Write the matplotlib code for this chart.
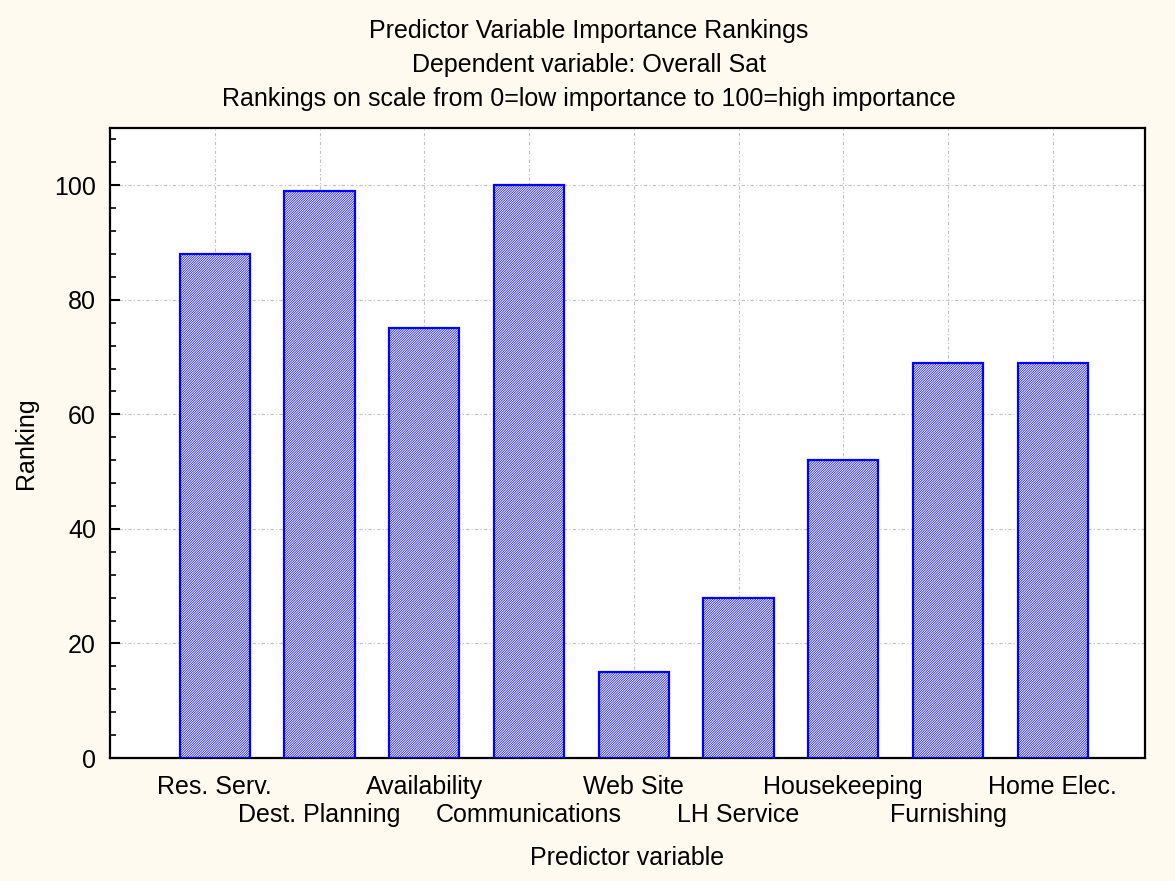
import matplotlib.pyplot as plt
from matplotlib.ticker import MultipleLocator

# data
predictors = ['Res. Serv.', 'Dest. Planning', 'Availability', 'Communications',
              'Web Site', 'LH Service', 'Housekeeping', 'Furnishing', 'Home Elec.']
rankings = [88, 99, 75, 100, 15, 28, 52, 69, 69]

plt.rcParams['font.family'] = ['Liberation Sans', 'DejaVu Sans']
plt.rcParams['hatch.linewidth'] = 0.5
plt.rcParams['hatch.color'] = 'blue'

bg = '#fffaf0'
fs = 18
fig = plt.figure(figsize=(11.75, 8.81), dpi=100, facecolor=bg)
ax = fig.add_axes([110 / 1175, 1 - 758 / 881, 1035 / 1175, 630 / 881])
ax.set_facecolor('white')

pos = list(range(1, len(predictors) + 1))
ax.bar(pos, rankings, width=0.67, color='white', edgecolor='blue',
       linewidth=1.6, hatch='/' * 14, zorder=3)

ax.set_xlim(0.0, 9.88)
ax.set_ylim(0, 110)
ax.yaxis.set_major_locator(MultipleLocator(20))
ax.yaxis.set_minor_locator(MultipleLocator(4))
ax.set_xticks(pos)
ax.set_xticklabels([''] * len(pos))
for i, (p, name) in enumerate(zip(pos, predictors)):
    off = -29 if i % 2 == 0 else -57
    ax.annotate(name, xy=(p, 0), xycoords='data', xytext=(0, off),
                textcoords='offset pixels', ha='center', va='center', fontsize=fs)

ax.tick_params(axis='x', length=0)
ax.tick_params(axis='y', which='major', direction='in', length=7, width=1.5,
               labelsize=fs, pad=10)
ax.tick_params(axis='y', which='minor', direction='in', length=4, width=1.2)
for s in ax.spines.values():
    s.set_linewidth(1.6)

ax.grid(True, color='#c0c0c0', linestyle=(0, (3, 2, 1, 2)), linewidth=0.8, zorder=0)

ax.set_xlabel('Predictor variable', fontsize=fs, labelpad=0)
ax.xaxis.set_label_coords(0.5, -0.139)
ax.set_ylabel('Ranking', fontsize=fs)
ax.yaxis.set_label_coords(-0.07, 0.5)

titles = ['Predictor Variable Importance Rankings',
          'Dependent variable: Overall Sat',
          'Rankings on scale from 0=low importance to 100=high importance']
for k, t in enumerate(titles):
    fig.text(589 / 1175, 1 - (31 + 34 * k) / 881, t, ha='center', va='center',
             fontsize=fs)

plt.savefig('out.png', dpi=100, facecolor=bg)
